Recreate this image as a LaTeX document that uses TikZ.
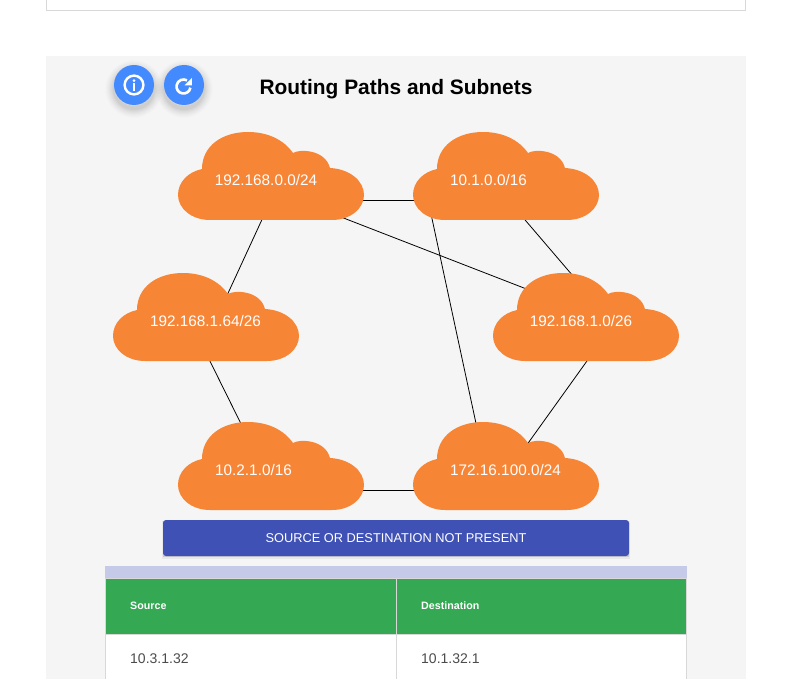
\documentclass[tikz,border=0pt]{standalone}
\usepackage{fontspec}
\setmainfont{Liberation Sans}
\usetikzlibrary{calc}
\definecolor{panel}{HTML}{F5F5F5}
\definecolor{cloudc}{HTML}{F78536}
\definecolor{fab}{HTML}{448AFF}
\definecolor{btn}{HTML}{3F51B5}
\definecolor{bar}{HTML}{C5CAE9}
\definecolor{head}{HTML}{34A853}
\definecolor{rule}{HTML}{D8D8D8}
\tikzset{
  x=1pt,y=-1pt,
  cloudlabel/.style={text=white,font=\fontsize{15.3}{18}\selectfont,inner sep=0pt,anchor=center},
  link/.style={draw=black,line width=0.8pt},
  headtext/.style={text=white,font=\fontsize{10.7}{12}\selectfont\bfseries,inner sep=0pt,anchor=west},
  celltext/.style={text=black!70,font=\fontsize{14}{16}\selectfont,inner sep=0pt,anchor=west},
  anchorpt/.style={inner sep=0pt,minimum size=0pt},
}
\newcommand{\cloudat}[2]{%
  \fill[cloudc,shift={(#1,#2)}] (32,88)
    .. controls (13,88) and (0,76) .. (0,63)
    .. controls (0,50) and (10,40) .. (24,37)
    .. controls (24,14) and (44,0) .. (70,0)
    .. controls (90,0) and (106,8) .. (115,21)
    .. controls (121,17) and (147,17) .. (152,36)
    .. controls (172,37) and (186,49) .. (186,63)
    .. controls (186,76) and (173,88) .. (154,88) -- cycle;}
\newcommand{\fabat}[3]{%
  \foreach \r/\o in {29/0.008,28/0.010,27/0.012,26/0.014,25/0.016,24/0.018,23/0.02,22/0.025,21/0.03}{\fill[black,opacity=\o] (#1,#2+4) circle[radius=\r];}
  \fill[white!85!black] (#1,#2+0.6) circle[radius=20.2];
  \node[circle,fill=fab,minimum size=40pt,inner sep=0pt] (#3) at (#1,#2) {};}
\begin{document}
\begin{tikzpicture}
\useasboundingbox (0,0) rectangle (803,679);
\fill[white] (0,0) rectangle (803,679);
\draw[rule,line width=1pt] (46.5,-2) -- (46.5,10.5) -- (745.5,10.5) -- (745.5,-2);
\fill[panel] (46,56) rectangle (746,679);
% connector ends
\node[anchorpt] (a1) at (271,200) {};
\node[anchorpt] (a2) at (506,200) {};
\node[anchorpt] (a3) at (206,341) {};
\node[anchorpt] (a5) at (271,490) {};
\node[anchorpt] (a6) at (506,490) {};
\node[anchorpt] (b1) at (310,205) {};
\node[anchorpt] (b4) at (560,302) {};
\node[anchorpt] (c2) at (508,200) {};
\node[anchorpt] (c4) at (585,290) {};
\node[anchorpt] (d2) at (428,200) {};
\node[anchorpt] (d6) at (480,442) {};
\node[anchorpt] (e4) at (597,347) {};
\node[anchorpt] (e6) at (516,460) {};
\node[anchorpt] (f3) at (200,341) {};
\node[anchorpt] (f5) at (250,442) {};
\draw[link] (a1) -- (a2);
\draw[link] (a1) -- (a3);
\draw[link] (b1) -- (b4);
\draw[link] (c2) -- (c4);
\draw[link] (d2) -- (d6);
\draw[link] (e4) -- (e6);
\draw[link] (f3) -- (f5);
\draw[link] (a5) -- (a6);
\cloudat{178}{132}\cloudat{413}{132}\cloudat{113}{273}\cloudat{493}{273}\cloudat{178}{422}\cloudat{413}{422}
\node[cloudlabel] (n1) at (266,180) {192.168.0.0/24};
\node[cloudlabel] (n2) at (488.5,180) {10.1.0.0/16};
\node[cloudlabel] (n3) at (205.5,321) {192.168.1.64/26};
\node[cloudlabel] (n4) at (581,321) {192.168.1.0/26};
\node[cloudlabel] (n5) at (253.5,470) {10.2.1.0/16};
\node[cloudlabel] (n6) at (505.5,470) {172.16.100.0/24};
\fabat{134}{85}{info}
\fabat{184}{85}{refresh}
\draw[white,line width=2.4pt] (info) circle[radius=9.4];
\fill[white] (134,80.7) circle[radius=1.5];
\fill[white] (132.8,83.2) rectangle (135.2,90.7);
\draw[white,line width=2.6pt] (190.4,87.7) arc[start angle=10,end angle=300,radius=7];
\fill[white] (191.8,78) -- (191.8,85.3) -- (184.5,85.3) -- cycle;
\node[font=\fontsize{20.9}{25}\selectfont\bfseries,inner sep=0pt] (title) at (396,89.5) {Routing Paths and Subnets};
\fill[black,opacity=0.05] (162,521) rectangle (630,558.5);
\fill[black,opacity=0.12] (163,521) rectangle (629,557);
\node[fill=btn,rounded corners=3pt,minimum width=466pt,minimum height=36pt,inner sep=0pt,text=white,font=\fontsize{12.8}{16}\selectfont] (button) at (396,538) {SOURCE OR DESTINATION NOT PRESENT};
\fill[bar] (105,566) rectangle (687,578);
\fill[head] (106,579) rectangle (686,634);
\fill[white] (106,635) rectangle (686,679);
\draw[rule,line width=1pt] (105.5,578.5) -- (686.5,578.5);
\draw[rule,line width=1pt] (105.5,634.5) -- (686.5,634.5);
\draw[rule,line width=1pt] (105.5,578) -- (105.5,679);
\draw[rule,line width=1pt] (396.5,578) -- (396.5,679);
\draw[rule,line width=1pt] (686.5,578) -- (686.5,679);
\node[headtext] (hs) at (130,606) {Source};
\node[headtext] (hd) at (421,606) {Destination};
\node[celltext] (cs) at (130,658.5) {10.3.1.32};
\node[celltext] (cd) at (421,658.5) {10.1.32.1};
\end{tikzpicture}
\end{document}
